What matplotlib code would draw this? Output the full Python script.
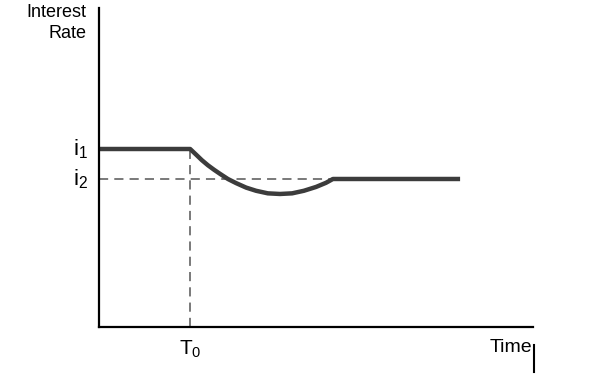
import matplotlib.pyplot as plt

plt.rcParams['font.family'] = ['Liberation Sans', 'DejaVu Sans']
plt.rcParams['mathtext.fontset'] = 'custom'
plt.rcParams['mathtext.rm'] = 'Liberation Sans'
plt.rcParams['mathtext.it'] = 'Liberation Sans'

# interest rate path (time 0..100, rate 0..100)
t_path = [0, 21.0, 22.4, 23.7, 25.1, 26.5, 27.9, 29.7, 31.6, 33.9, 36.2,
          38.9, 41.7, 44.5, 47.2, 50.0, 52.3, 53.9, 83.2]
r_path = [55.8, 55.8, 54.0, 52.3, 50.7, 49.3, 48.0, 46.4, 45.1, 43.7, 42.7,
          41.9, 41.7, 41.9, 42.7, 43.9, 45.2, 46.4, 46.4]

T0 = 21.0
i1 = 55.8
i2 = 46.4
t_end = 53.9

fig = plt.figure(figsize=(6.08, 3.76), dpi=100)
ax = fig.add_axes([99/608, 49/376, 434/608, 319/376])
ax.set_xlim(0, 100)
ax.set_ylim(0, 100)

# dashed guides
ax.plot([0, t_end], [i2, i2], color='#555555', lw=1.1, dashes=(6, 4))
ax.plot([T0, T0], [0, i1], color='#555555', lw=1.1, dashes=(6, 4))

ax.plot(t_path, r_path, color='#3c3c3c', lw=3.2, solid_capstyle='butt',
        solid_joinstyle='round')

for s in ['top', 'right']:
    ax.spines[s].set_visible(False)
for s in ['left', 'bottom']:
    ax.spines[s].set_linewidth(1.6)
ax.set_xticks([])
ax.set_yticks([])

ax.text(-2.8, 101.3, 'Interest\nRate', ha='right', va='top', fontsize=13,
        linespacing=1.3)
ax.text(-2.6, i1, r'$\mathrm{i}_1$', ha='right', va='center', fontsize=16)
ax.text(-2.6, i2, r'$\mathrm{i}_2$', ha='right', va='center', fontsize=16)
ax.text(T0, -3.6, r'$\mathrm{T}_0$', ha='center', va='top', fontsize=15)
ax.text(99.8, -3.8, 'Time', ha='right', va='top', fontsize=14)

# cursor mark next to the label
ax.plot([100.2, 100.2], [-5.6, -14.1], color='black', lw=1.5, clip_on=False)

fig.savefig('out.png', dpi=100)
